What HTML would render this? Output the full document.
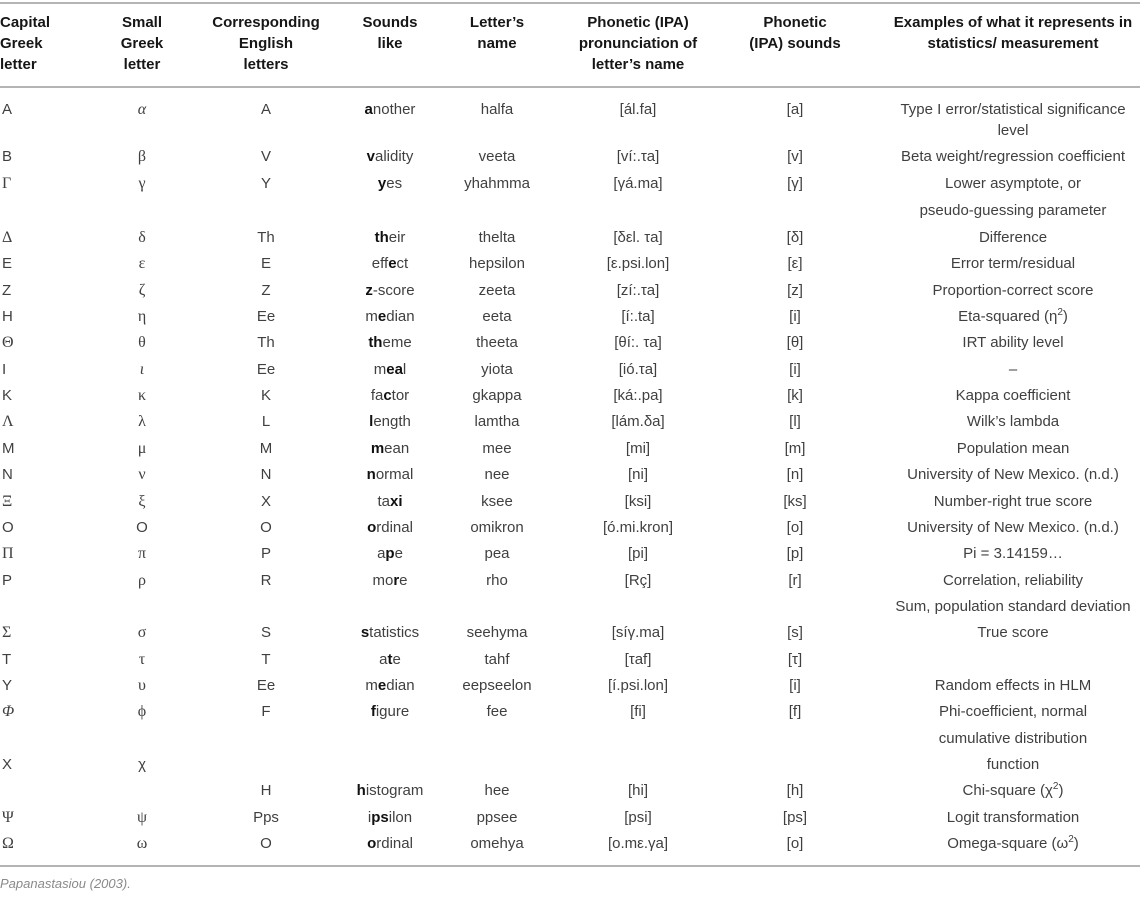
<!DOCTYPE html>
<html><head><meta charset="utf-8">
<style>
html,body{margin:0;padding:0;background:#fff;}
body{width:1143px;height:899px;position:relative;overflow:hidden;font-family:"Liberation Sans",Arial,sans-serif;font-size:15px;color:#404040;}
.ln{position:absolute;left:0;width:1140px;height:2px;background:#b4b4b4;}
.h{position:absolute;top:12px;font-weight:bold;color:#161616;line-height:21px;text-align:center;font-size:15px;}
.r{position:absolute;left:0;width:1143px;height:20px;line-height:20px;margin-top:1.5px;}
.r span{position:absolute;top:0;white-space:nowrap;text-align:center;}
.c1{left:2px;text-align:left!important;}
.c2{left:82px;width:120px;}
.c3{left:206px;width:120px;}
.c4{left:330px;width:120px;}
.c5{left:437px;width:120px;}
.c6{left:558px;width:160px;}
.c7{left:735px;width:120px;}
.c8{left:863px;width:300px;}
.s{font-family:"Liberation Serif","DejaVu Serif",serif;font-size:16px;}
.r b{color:#111;}
sup{font-size:10px;line-height:0;vertical-align:6px;}
.cap{position:absolute;left:0;top:875px;font-size:13px;font-style:italic;color:#8a8a8a;line-height:18px;}
</style></head><body>
<div class="ln" style="top:2px"></div>
<div class="h" style="left:0;text-align:left;">Capital<br>Greek<br>letter</div>
<div class="h" style="left:82px;width:120px;">Small<br>Greek<br>letter</div>
<div class="h" style="left:186px;width:160px;">Corresponding<br>English<br>letters</div>
<div class="h" style="left:330px;width:120px;">Sounds<br>like</div>
<div class="h" style="left:437px;width:120px;">Letter’s<br>name</div>
<div class="h" style="left:548px;width:180px;">Phonetic (IPA)<br>pronunciation of<br>letter’s name</div>
<div class="h" style="left:725px;width:140px;">Phonetic<br>(IPA) sounds</div>
<div class="h" style="left:863px;width:300px;">Examples of what it represents in<br>statistics/ measurement</div>
<div class="ln" style="top:86px"></div>

<div class="r" style="top:98.5px"><span class="c1">A</span><span class="c2 s"><i>α</i></span><span class="c3">A</span><span class="c4"><b>a</b>nother</span><span class="c5">halfa</span><span class="c6">[ál.fa]</span><span class="c7">[a]</span><span class="c8">Type I error/statistical significance</span></div>
<div class="r" style="top:119.5px"><span class="c8">level</span></div>
<div class="r" style="top:145.5px"><span class="c1">B</span><span class="c2 s">β</span><span class="c3">V</span><span class="c4"><b>v</b>alidity</span><span class="c5">veeta</span><span class="c6">[ví:.τa]</span><span class="c7">[v]</span><span class="c8">Beta weight/regression coefficient</span></div>
<div class="r" style="top:172.5px"><span class="c1 s">Γ</span><span class="c2 s">γ</span><span class="c3">Y</span><span class="c4"><b>y</b>es</span><span class="c5">yhahmma</span><span class="c6">[γá.ma]</span><span class="c7">[γ]</span><span class="c8">Lower asymptote, or</span></div>
<div class="r" style="top:199.5px"><span class="c8">pseudo-guessing parameter</span></div>
<div class="r" style="top:226.5px"><span class="c1 s">Δ</span><span class="c2 s">δ</span><span class="c3">Th</span><span class="c4"><b>th</b>eir</span><span class="c5">thelta</span><span class="c6">[δεl. τa]</span><span class="c7">[δ]</span><span class="c8">Difference</span></div>
<div class="r" style="top:252.85px"><span class="c1">E</span><span class="c2 s">ε</span><span class="c3">E</span><span class="c4">eff<b>e</b>ct</span><span class="c5">hepsilon</span><span class="c6">[ε.psi.lon]</span><span class="c7">[ε]</span><span class="c8">Error term/residual</span></div>
<div class="r" style="top:279.2px"><span class="c1">Z</span><span class="c2 s">ζ</span><span class="c3">Z</span><span class="c4"><b>z</b>-score</span><span class="c5">zeeta</span><span class="c6">[zí:.τa]</span><span class="c7">[z]</span><span class="c8">Proportion-correct score</span></div>
<div class="r" style="top:305.55px"><span class="c1">H</span><span class="c2 s">η</span><span class="c3">Ee</span><span class="c4">m<b>e</b>dian</span><span class="c5">eeta</span><span class="c6">[í:.ta]</span><span class="c7">[i]</span><span class="c8">Eta-squared (η<sup>2</sup>)</span></div>
<div class="r" style="top:331.9px"><span class="c1 s">Θ</span><span class="c2 s">θ</span><span class="c3">Th</span><span class="c4"><b>th</b>eme</span><span class="c5">theeta</span><span class="c6">[θí:. τa]</span><span class="c7">[θ]</span><span class="c8">IRT ability level</span></div>
<div class="r" style="top:358.25px"><span class="c1">I</span><span class="c2 s"><i>ι</i></span><span class="c3">Ee</span><span class="c4">m<b>ea</b>l</span><span class="c5">yiota</span><span class="c6">[ió.τa]</span><span class="c7">[i]</span><span class="c8">–</span></div>
<div class="r" style="top:384.6px"><span class="c1">K</span><span class="c2 s">κ</span><span class="c3">K</span><span class="c4">fa<b>c</b>tor</span><span class="c5">gkappa</span><span class="c6">[ká:.pa]</span><span class="c7">[k]</span><span class="c8">Kappa coefficient</span></div>
<div class="r" style="top:410.95px"><span class="c1 s">Λ</span><span class="c2 s">λ</span><span class="c3">L</span><span class="c4"><b>l</b>ength</span><span class="c5">lamtha</span><span class="c6">[lám.δa]</span><span class="c7">[l]</span><span class="c8">Wilk’s lambda</span></div>
<div class="r" style="top:437.3px"><span class="c1">M</span><span class="c2 s">μ</span><span class="c3">M</span><span class="c4"><b>m</b>ean</span><span class="c5">mee</span><span class="c6">[mi]</span><span class="c7">[m]</span><span class="c8">Population mean</span></div>
<div class="r" style="top:463.65px"><span class="c1">N</span><span class="c2 s">ν</span><span class="c3">N</span><span class="c4"><b>n</b>ormal</span><span class="c5">nee</span><span class="c6">[ni]</span><span class="c7">[n]</span><span class="c8">University of New Mexico. (n.d.)</span></div>
<div class="r" style="top:490px"><span class="c1 s">Ξ</span><span class="c2 s">ξ</span><span class="c3">X</span><span class="c4">ta<b>xi</b></span><span class="c5">ksee</span><span class="c6">[ksi]</span><span class="c7">[ks]</span><span class="c8">Number-right true score</span></div>
<div class="r" style="top:516.35px"><span class="c1">O</span><span class="c2">O</span><span class="c3">O</span><span class="c4"><b>o</b>rdinal</span><span class="c5">omikron</span><span class="c6">[ó.mi.kron]</span><span class="c7">[o]</span><span class="c8">University of New Mexico. (n.d.)</span></div>
<div class="r" style="top:542.7px"><span class="c1 s">Π</span><span class="c2 s">π</span><span class="c3">P</span><span class="c4">a<b>p</b>e</span><span class="c5">pea</span><span class="c6">[pi]</span><span class="c7">[p]</span><span class="c8">Pi = 3.14159…</span></div>
<div class="r" style="top:569.05px"><span class="c1">P</span><span class="c2 s">ρ</span><span class="c3">R</span><span class="c4">mo<b>r</b>e</span><span class="c5">rho</span><span class="c6">[Rç]</span><span class="c7">[r]</span><span class="c8">Correlation, reliability</span></div>
<div class="r" style="top:595.4px"><span class="c8">Sum, population standard deviation</span></div>
<div class="r" style="top:621.75px"><span class="c1 s">Σ</span><span class="c2 s">σ</span><span class="c3">S</span><span class="c4"><b>s</b>tatistics</span><span class="c5">seehyma</span><span class="c6">[síγ.ma]</span><span class="c7">[s]</span><span class="c8">True score</span></div>
<div class="r" style="top:648.1px"><span class="c1">T</span><span class="c2 s">τ</span><span class="c3">T</span><span class="c4">a<b>t</b>e</span><span class="c5">tahf</span><span class="c6">[τaf]</span><span class="c7">[τ]</span></div>
<div class="r" style="top:674.45px"><span class="c1">Y</span><span class="c2 s">υ</span><span class="c3">Ee</span><span class="c4">m<b>e</b>dian</span><span class="c5">eepseelon</span><span class="c6">[í.psi.lon]</span><span class="c7">[i]</span><span class="c8">Random effects in HLM</span></div>
<div class="r" style="top:700.8px"><span class="c1 s"><i>Φ</i></span><span class="c2 s">ϕ</span><span class="c3">F</span><span class="c4"><b>f</b>igure</span><span class="c5">fee</span><span class="c6">[fi]</span><span class="c7">[f]</span><span class="c8">Phi-coefficient, normal</span></div>
<div class="r" style="top:727.15px"><span class="c8">cumulative distribution</span></div>
<div class="r" style="top:753.5px"><span class="c1">X</span><span class="c2">χ</span><span class="c8">function</span></div>
<div class="r" style="top:779.85px"><span class="c3">H</span><span class="c4"><b>h</b>istogram</span><span class="c5">hee</span><span class="c6">[hi]</span><span class="c7">[h]</span><span class="c8">Chi-square (χ<sup>2</sup>)</span></div>
<div class="r" style="top:806.2px"><span class="c1 s">Ψ</span><span class="c2 s">ψ</span><span class="c3">Pps</span><span class="c4">i<b>ps</b>ilon</span><span class="c5">ppsee</span><span class="c6">[psi]</span><span class="c7">[ps]</span><span class="c8">Logit transformation</span></div>
<div class="r" style="top:832.55px"><span class="c1 s">Ω</span><span class="c2 s">ω</span><span class="c3">O</span><span class="c4"><b>o</b>rdinal</span><span class="c5">omehya</span><span class="c6">[o.mε.γa]</span><span class="c7">[o]</span><span class="c8">Omega-square (ω<sup>2</sup>)</span></div>

<div class="ln" style="top:865px"></div>
<div class="cap">Papanastasiou (2003).</div>
</body></html>
